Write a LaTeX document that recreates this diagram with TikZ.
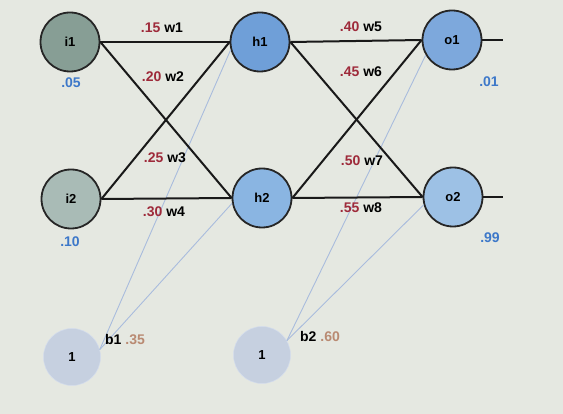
\documentclass[tikz,border=0pt]{standalone}
\usepackage{fontspec}
\setmainfont{Liberation Sans}
\usepackage{xcolor}
\usetikzlibrary{positioning}

\definecolor{paper}{HTML}{E5E8E1}
\definecolor{inA}{HTML}{879E95}
\definecolor{inB}{HTML}{A9BBB6}
\definecolor{hidA}{HTML}{6F9FD8}
\definecolor{hidB}{HTML}{8AB5E2}
\definecolor{outA}{HTML}{7DA8DC}
\definecolor{outB}{HTML}{9DC1E5}
\definecolor{biasfill}{HTML}{C6D0E0}
\definecolor{biasline}{HTML}{A9BCDD}
\definecolor{wred}{HTML}{9E2A3A}
\definecolor{vblue}{HTML}{3D78C9}
\definecolor{bbrown}{HTML}{B98A72}

\newcommand{\wt}[2]{{\color{wred}#1} #2}

\begin{document}
\begin{tikzpicture}[x=1pt,y=-1pt,
  neuron/.style={circle,draw=black!85,line width=1.8pt,minimum size=59pt,inner sep=0pt,
    font=\bfseries\fontsize{13}{13}\selectfont},
  biasnode/.style={circle,draw=biasline!50,line width=.5pt,fill=biasfill,minimum size=57pt,
    inner sep=0pt,font=\bfseries\fontsize{13}{13}\selectfont},
  lbl/.style={font=\bfseries\fontsize{14}{15}\selectfont,inner sep=1pt},
  edge/.style={line width=2pt,black!90},
  biasedge/.style={line width=.9pt,biasline}]
\fill[paper] (0,0) rectangle (563,414);

% neurons
\node[neuron,fill=inA] (i1) at (70,42) {i1};
\node[neuron,fill=inB] (i2) at (71,199) {i2};
\node[neuron,fill=hidA] (h1) at (260,42) {h1};
\node[neuron,fill=hidB] (h2) at (262,198) {h2};
\node[neuron,fill=outA] (o1) at (452,40) {o1};
\node[neuron,fill=outB] (o2) at (453,197) {o2};
\node[biasnode] (b1) at (72,357) {1};
\node[biasnode] (b2) at (262,355) {1};
\coordinate (out1) at (503,40);
\coordinate (out2) at (503,197);

% bias connections
\draw[biasedge] (b1.15) -- (h1.195);
\draw[biasedge] (b1.15) -- (h2.190);
\draw[biasedge] (b2.30) -- (o1.210);
\draw[biasedge] (b2.30) -- (o2.195);

% weights
\draw[edge] (i1.east) -- (h1.west);
\draw[edge] (i1.east) -- (h2.west);
\draw[edge] (i2.east) -- (h1.west);
\draw[edge] (i2.east) -- (h2.west);
\draw[edge] (h1.east) -- (o1.west);
\draw[edge] (h1.east) -- (o2.west);
\draw[edge] (h2.east) -- (o1.west);
\draw[edge] (h2.east) -- (o2.west);
\draw[edge] (o1.east) -- (out1);
\draw[edge] (o2.east) -- (out2);

% labels
\node[lbl] (w1) at (162,28) {\wt{.15}{w1}};
\node[lbl] (w2) at (163,77) {\wt{.20}{w2}};
\node[lbl] (w3) at (165,158) {\wt{.25}{w3}};
\node[lbl] (w4) at (164,212) {\wt{.30}{w4}};
\node[lbl] (w5) at (361,27) {\wt{.40}{w5}};
\node[lbl] (w6) at (361,72) {\wt{.45}{w6}};
\node[lbl] (w7) at (362,161) {\wt{.50}{w7}};
\node[lbl] (w8) at (361,208) {\wt{.55}{w8}};
\node[lbl,vblue] (vi1) at (71,83) {.05};
\node[lbl,vblue] (vi2) at (70,242) {.10};
\node[lbl,vblue] (vo1) at (489,82) {.01};
\node[lbl,vblue] (vo2) at (490,238) {.99};
\node[lbl] (lb1) at (125,340) {b1 {\color{bbrown}.35}};
\node[lbl] (lb2) at (320,336) {b2 {\color{bbrown}.60}};
\end{tikzpicture}
\end{document}
